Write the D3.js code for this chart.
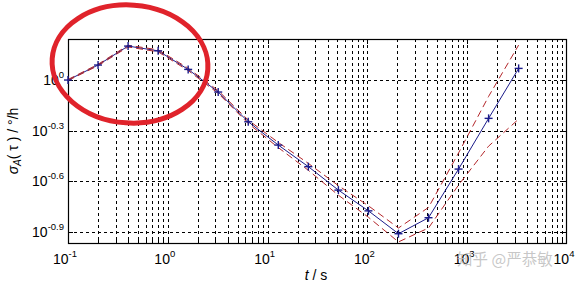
<!DOCTYPE html>
<html><head><meta charset="utf-8">
<script src="https://cdn.jsdelivr.net/npm/d3@7"></script>
<style>body{margin:0;background:#fff}svg{display:block}</style>
</head><body>
<svg id="c" width="581" height="288"></svg>
<script>
// Data
const tau = [0.1,0.2,0.4,0.8,1.6,3.2,6.4,12.8,25.6,51.2,102.4,204.8,409.6,819.2,1638.4,3276.8];
const sigma = [1.000,1.227,1.589,1.489,1.156,0.849,0.566,0.412,0.307,0.223,0.168,0.123,0.153,0.297,0.593,1.172];
const sigmaUpper = [1.007,1.239,1.607,1.510,1.175,0.865,0.579,0.427,0.321,0.237,0.180,0.133,0.176,0.370,0.800,1.611];
const sigmaLower = [0.993,1.216,1.570,1.469,1.138,0.834,0.553,0.398,0.292,0.208,0.154,0.110,0.133,0.239,0.406,0.587];
const xTickExps = [-1,0,1,2,3,4];
const yTickExps = ["0","-0.3","-0.6","-0.9"];

const svg = d3.select("#c");
const L=68, R=567, T=39, B=243;
const x = d3.scaleLog().domain([0.1,1e4]).range([L,R]);
const y = d3.scaleLog().domain([Math.pow(10,-0.965),Math.pow(10,0.243)]).range([B,T]);
const font = "'Liberation Sans', Arial, sans-serif";

// grid
const minor = [];
for (let e=-1;e<4;e++) for (let k=1;k<10;k++) { const v=k*Math.pow(10,e); if (v>0.1+1e-9) minor.push(v); }
const g = svg.append("g");
g.selectAll("line.gx").data(minor).join("line")
  .attr("x1",d=>Math.round(x(d))+0.5).attr("x2",d=>Math.round(x(d))+0.5)
  .attr("y1",T).attr("y2",B)
  .attr("stroke","#000").attr("stroke-width",1).attr("stroke-dasharray","3,3");
g.selectAll("line.gy").data(yTickExps).join("line")
  .attr("x1",L).attr("x2",R)
  .attr("y1",d=>Math.round(y(Math.pow(10,+d)))+0.5).attr("y2",d=>Math.round(y(Math.pow(10,+d)))+0.5)
  .attr("stroke","#000").attr("stroke-width",1).attr("stroke-dasharray","3,3");

// frame
svg.append("rect").attr("x",L+0.5).attr("y",T+0.5).attr("width",R-L-1).attr("height",B-T)
  .attr("fill","none").attr("stroke","#000").attr("stroke-width",1.2);

// inward ticks
const tk = svg.append("g").attr("stroke","#000").attr("stroke-width",1);
minor.forEach(v=>{
  const xx=Math.round(x(v))+0.5, len = Number.isInteger(Math.log10(v))?5:3;
  tk.append("line").attr("x1",xx).attr("x2",xx).attr("y1",B).attr("y2",B-len);
  tk.append("line").attr("x1",xx).attr("x2",xx).attr("y1",T).attr("y2",T+len);
});
yTickExps.forEach(d=>{
  const yy=Math.round(y(Math.pow(10,+d)))+0.5;
  tk.append("line").attr("x1",L).attr("x2",L+5).attr("y1",yy).attr("y2",yy);
  tk.append("line").attr("x1",R).attr("x2",R-5).attr("y1",yy).attr("y2",yy);
});

// x tick labels
xTickExps.forEach(e=>{
  const t = svg.append("text").attr("x",x(Math.pow(10,e))-3).attr("y",264)
    .attr("text-anchor","middle").attr("font-family",font).attr("font-size",14).attr("fill","#000");
  t.append("tspan").text("10");
  t.append("tspan").attr("dy",-7).attr("font-size",9.5).text(String(e));
});
// y tick labels
yTickExps.forEach(d=>{
  const t = svg.append("text").attr("x",64).attr("y",y(Math.pow(10,+d))+5)
    .attr("text-anchor","end").attr("font-family",font).attr("font-size",14).attr("fill","#000");
  t.append("tspan").text("10");
  t.append("tspan").attr("dy",-7).attr("font-size",9.5).text(d);
});

// axis labels
const xl = svg.append("text").attr("x",316).attr("y",280).attr("text-anchor","middle")
  .attr("font-family",font).attr("font-size",14).attr("fill","#000");
xl.append("tspan").attr("font-style","italic").text("t");
xl.append("tspan").text(" / s");
const yl = svg.append("text").attr("transform","translate(18,141) rotate(-90)").attr("text-anchor","middle")
  .attr("font-family",font).attr("font-size",14).attr("fill","#000");
yl.append("tspan").attr("font-style","italic").text("σ");
yl.append("tspan").attr("font-size",10).attr("dy",3).attr("font-style","italic").text("A");
yl.append("tspan").attr("dy",-3).text("( τ ) / °/h");

// lines
const line = d3.line().x(d=>x(d[0])).y(d=>y(d[1]));
svg.append("path").attr("d",line(tau.map((t,i)=>[t,sigma[i]])))
  .attr("fill","none").attr("stroke","#1b1b8a").attr("stroke-width",1);
[sigmaUpper,sigmaLower].forEach(arr=>{
  svg.append("path").attr("d",line(tau.map((t,i)=>[t,arr[i]])))
    .attr("fill","none").attr("stroke","#b3262a").attr("stroke-width",1).attr("stroke-dasharray","7,4");
});
// markers
const mk = svg.append("g").attr("stroke","#1b1b8a").attr("stroke-width",1.4);
tau.forEach((t,i)=>{
  const cx=x(t), cy=y(sigma[i]), s=4;
  mk.append("line").attr("x1",cx-s).attr("x2",cx+s).attr("y1",cy).attr("y2",cy);
  mk.append("line").attr("x1",cx).attr("x2",cx).attr("y1",cy-s).attr("y2",cy+s);
});

// annotation ellipse
svg.append("ellipse").attr("cx",130).attr("cy",64).attr("rx",78).attr("ry",59)
  .attr("transform","rotate(4,130,64)")
  .attr("fill","none").attr("stroke","#e0232b").attr("stroke-width",5);

// watermark
svg.append("text").attr("x",457).attr("y",265).attr("font-family","'Noto Sans CJK SC', sans-serif")
  .attr("font-size",15.5).attr("fill","#bdbdbd").attr("fill-opacity",0.85).text("知乎 @严恭敏");
</script>
</body></html>
